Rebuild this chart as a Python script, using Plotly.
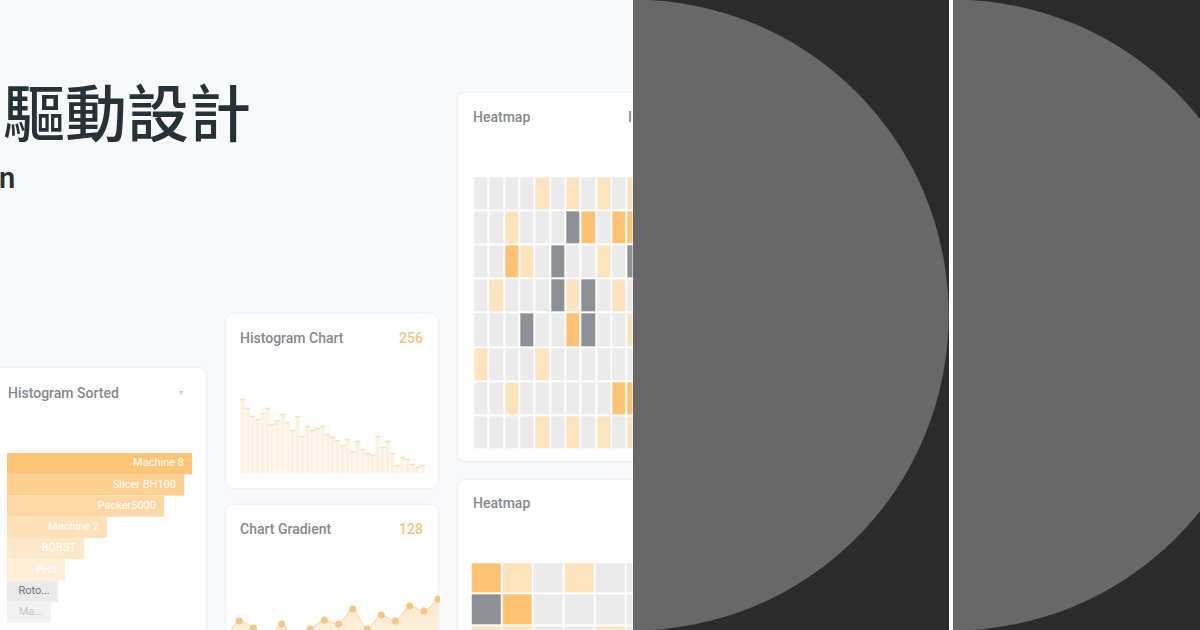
import plotly.graph_objects as go

W, H = 1200, 630

# ---------------- data ----------------
sorted_labels = ["Machine 8", "Slicer BH100", "Packer5000", "Machine 2", "BOBST", "PH8", "Roto...", "Ma..."]
sorted_values = [185, 177, 157, 100, 77, 58, 51, 44]
sorted_colors = ["#fcc578", "#fdcf90", "#fdd8a6", "#fee1b9", "#fee8ca", "#feeed8", "#eaeaeb", "#f2f2f3"]
sorted_text_colors = ["#ffffff"] * 6 + ["#707275", "#c4c6c9"]

hist_values = [74, 65, 57, 54, 60, 65, 49, 53, 59, 51, 43, 57, 37, 47, 43, 45, 47, 39, 36,
               33, 28, 34, 22, 32, 24, 20, 18, 37, 26, 32, 20, 8, 16, 14, 9, 6, 8]

grad_values = [0, 19, 12, 0, 16, 0, 11, 20, 16, 31, 11, 25, 19, 34, 29, 41]

heat1 = [
    [0, 0, 0, 0, 1, 0, 1, 0, 1, 0, 1],
    [0, 0, 1, 0, 0, 0, 3, 2, 0, 2, 2],
    [0, 0, 2, 1, 0, 3, 0, 0, 1, 0, 3],
    [0, 1, 0, 0, 0, 3, 1, 3, 0, 1, 0],
    [0, 0, 0, 3, 0, 0, 2, 3, 0, 0, 1],
    [1, 0, 0, 0, 1, 0, 0, 0, 0, 0, 0],
    [0, 0, 1, 0, 0, 0, 0, 0, 0, 2, 2],
    [0, 0, 0, 0, 1, 0, 1, 0, 1, 0, 1],
]
heat2 = [
    [2, 1, 0, 1, 0, 0],
    [3, 2, 0, 0, 0, 0],
    [1, 1, 0, 0, 1, 0],
]

heat_scale = [[0, "#ebebeb"], [1 / 3, "#fee3bf"], [2 / 3, "#fdc272"], [1, "#8d9196"]]

# ---------------- helpers ----------------
def xdom(a, b):
    return [max(0, a / W), min(1, b / W)]

def ydom(top, bottom):
    return [max(0, 1 - bottom / H), min(1, 1 - top / H)]

def rrect(x0, y0, x1, y1, r, square_right=False):
    if square_right:
        return (f"M{x0+r},{y0} L{x1},{y0} L{x1},{y1} L{x0+r},{y1} "
                f"Q{x0},{y1} {x0},{y1-r} L{x0},{y0+r} Q{x0},{y0} {x0+r},{y0} Z")
    return (f"M{x0+r},{y0} L{x1-r},{y0} Q{x1},{y0} {x1},{y0+r} L{x1},{y1-r} "
            f"Q{x1},{y1} {x1-r},{y1} L{x0+r},{y1} Q{x0},{y1} {x0},{y1-r} "
            f"L{x0},{y0+r} Q{x0},{y0} {x0+r},{y0} Z")

fig = go.Figure()

# ---- Histogram Sorted (x2/y2) ----
fig.add_trace(go.Bar(
    x=sorted_values, y=list(range(len(sorted_values))), orientation="h",
    width=1.0, marker=dict(color=sorted_colors, line=dict(width=0)),
    xaxis="x2", yaxis="y2", hoverinfo="skip", showlegend=False))
label_pad = 8
fig.add_trace(go.Scatter(
    x=[v - label_pad for v in sorted_values], y=list(range(len(sorted_values))),
    mode="text", text=sorted_labels, textposition="middle left",
    textfont=dict(family="Roboto", size=11, color=sorted_text_colors),
    xaxis="x2", yaxis="y2", hoverinfo="skip", showlegend=False, cliponaxis=False))

# ---- Histogram Chart (x3/y3) ----
fig.add_trace(go.Bar(
    x=list(range(len(hist_values))), y=hist_values, width=0.8,
    marker=dict(color="#fdf1e1", line=dict(width=0)),
    xaxis="x3", yaxis="y3", hoverinfo="skip", showlegend=False))
fig.add_trace(go.Scatter(
    x=list(range(len(hist_values))), y=hist_values, mode="markers",
    marker=dict(symbol="line-ew", size=4, line=dict(width=1.5, color="#f9e0c0")),
    xaxis="x3", yaxis="y3", hoverinfo="skip", showlegend=False, cliponaxis=False))

# ---- Chart Gradient (x4/y4) ----
fig.add_trace(go.Scatter(
    x=list(range(len(grad_values))), y=grad_values, mode="lines+markers",
    line=dict(shape="spline", smoothing=0.8, color="#f6d3a2", width=1),
    marker=dict(size=7, color="#f5c684"),
    fill="tozeroy",
    fillgradient=dict(type="vertical", colorscale=[[0, "#fdf3e2"], [1, "#fce8c8"]]),
    xaxis="x4", yaxis="y4", hoverinfo="skip", showlegend=False))

# ---- Heatmaps ----
fig.add_trace(go.Heatmap(
    z=heat1, colorscale=heat_scale, zmin=0, zmax=3, showscale=False,
    xgap=2, ygap=2, xaxis="x5", yaxis="y5", hoverinfo="skip"))
fig.add_trace(go.Heatmap(
    z=heat2, colorscale=heat_scale, zmin=0, zmax=3, showscale=False,
    xgap=2, ygap=2, xaxis="x6", yaxis="y6", hoverinfo="skip"))

# ---------------- shapes ----------------
shapes = []
def S(**kw):
    d = dict(xref="x", yref="y", layer="below", line=dict(width=0))
    d.update(kw)
    shapes.append(d)

R = 315.4
S(type="rect", x0=953, x1=1210, y0=-10, y1=640, fillcolor="#2b2b2b")
S(type="circle", x0=953 - R, x1=953 + R, y0=315 - R, y1=315 + R, fillcolor="#686868")
S(type="rect", x0=633, x1=949, y0=-10, y1=640, fillcolor="#2b2b2b")
S(type="circle", x0=633.3 - R, x1=633.3 + R, y0=315 - R, y1=315 + R, fillcolor="#686868")
S(type="rect", x0=949, x1=953, y0=-10, y1=640, fillcolor="#ffffff")
S(type="rect", x0=-10, x1=633, y0=-10, y1=640, fillcolor="#f8f9fa")

cards = [
    (-10, 368, 206, 650, False),
    (226, 314, 438, 488, False),
    (226, 505, 438, 650, False),
    (458, 93, 633, 461, True),
    (458, 480, 633, 650, True),
]
for x0, y0, x1, y1, sq in cards:
    S(type="path", path=rrect(x0 - 1.5, y0 - 1.5, x1 + (0 if sq else 1.5), y1 + 1.5, 9, sq), fillcolor="#f1f2f4")
    S(type="path", path=rrect(x0, y0, x1, y1, 8, sq), fillcolor="#fefefe")

# ---------------- annotations ----------------
ann = []
def A(text, x, y, size, color, xanchor="left", family="Roboto", weight=500):
    ann.append(dict(text=text, x=x, y=y, xref="x", yref="y", showarrow=False,
                    xanchor=xanchor, yanchor="middle",
                    font=dict(family=family, size=size, color=color, weight=weight)))

A("驅動設計", 1, 110, 62, "#263238", family="Noto Sans CJK TC", weight=500)
A("n", 17, 178, 29, "#263238", xanchor="right", family="Roboto", weight=600)
A("Histogram Sorted", 6, 393, 14, "#85898e")
A("▾", 181, 392, 8, "#c2c4c7", xanchor="center")
A("Histogram Chart", 238, 338, 14, "#85898e")
A("256", 425, 338, 14, "#f4c47f", xanchor="right")
A("Chart Gradient", 238, 529, 14, "#85898e")
A("128", 425, 529, 14, "#f4c47f", xanchor="right")
A("Heatmap", 471, 117, 14, "#85898e")
A("I", 626, 117, 14, "#85898e")
A("Heatmap", 471, 503, 14, "#85898e")

hid = dict(visible=False, showgrid=False, zeroline=False, fixedrange=True)

fig.update_layout(
    width=W, height=H, margin=dict(l=0, r=0, t=0, b=0),
    paper_bgcolor="#f8f9fa", plot_bgcolor="rgba(0,0,0,0)",
    showlegend=False, shapes=shapes, annotations=ann,
    xaxis=dict(hid, domain=[0, 1], range=[0, W]),
    yaxis=dict(hid, domain=[0, 1], range=[H, 0]),
    xaxis2=dict(hid, domain=xdom(7, 206), range=[0, 199], anchor="y2"),
    yaxis2=dict(hid, domain=ydom(453, 623), range=[7.5, -0.5], anchor="x2"),
    xaxis3=dict(hid, domain=xdom(240, 425), range=[-0.5, len(hist_values) - 0.5], anchor="y3"),
    yaxis3=dict(hid, domain=ydom(393.5, 473.5), range=[0, 80], anchor="x3"),
    xaxis4=dict(hid, domain=xdom(226, 440), range=[1 / 14.2, 215 / 14.2], anchor="y4"),
    yaxis4=dict(hid, domain=ydom(560, 630), range=[10, 80], anchor="x4"),
    xaxis5=dict(hid, domain=xdom(473.3, 632.5), range=[-0.5, 9.88], anchor="y5"),
    yaxis5=dict(hid, domain=ydom(176.3, 449.1), range=[7.5, -0.5], anchor="x5"),
    xaxis6=dict(hid, domain=xdom(470.7, 632.5), range=[-0.5, 4.72], anchor="y6"),
    yaxis6=dict(hid, domain=ydom(562.3, 630), range=[1.66, -0.5], anchor="x6"),
)

fig.write_html("out.html", config={"displayModeBar": False, "staticPlot": True},
               post_script="document.body.style.margin='0';document.body.style.overflow='hidden';")
